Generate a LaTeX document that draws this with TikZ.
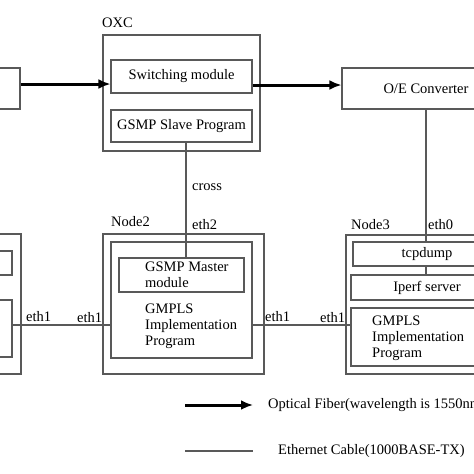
\documentclass[tikz,border=0pt]{standalone}
\usepackage{fontspec}
\setmainfont{Liberation Serif}
\usetikzlibrary{arrows.meta, positioning, calc}

\begin{document}
\begin{tikzpicture}[x=1pt, y=-1pt, font=\fontsize{14.5}{16}\selectfont]
    % Styles
    \tikzstyle{box} = [rectangle, draw=gray!70!black, line width=1.1pt, inner sep=0pt, text=black]
    \tikzstyle{tag} = [inner sep=0pt, anchor=west, text=black]
    \tikzstyle{fiber} = [draw, black, line width=3pt, -{Latex[length=12pt, width=10pt]}]
    \tikzstyle{eth} = [draw, gray!70!black, line width=1.1pt]

    \clip (0,0) rectangle (474,474);

    % Nodes
    \node [box, minimum width=80, minimum height=41] (src) at (-20,88.5) {};
    \node [box, minimum width=157, minimum height=116] (oxc) at (181.5,93) {};
    \node [tag] (oxctag) at (102,23) {OXC};
    \node [box, minimum width=141, minimum height=33] (switch) at (181.5,76.5) {Switching module};
    \node [box, minimum width=141, minimum height=32] (slave) at (181.5,126) {GSMP Slave Program};
    \node [box, minimum width=168, minimum height=41] (oe) at (426,88.5) {O/E Converter};

    \node [box, minimum width=161, minimum height=140] (node1) at (-59.5,304) {};
    \node [box, minimum width=142, minimum height=24] (node1top) at (-59,263) {};
    \node [box, minimum width=142, minimum height=57] (node1prog) at (-59,328.5) {};

    \node [box, minimum width=161, minimum height=140] (node2) at (183.5,304) {};
    \node [tag] (node2tag) at (111,222) {Node2};
    \node [box, minimum width=141, minimum height=116] (node2prog) at (181.5,300) {};
    \node [box, minimum width=125, minimum height=34] (master) at (181.5,275) {};
    \node [tag, align=left] (mastertxt) at (145,275) {GSMP Master\\module};
    \node [tag, align=left] (node2txt) at (145,326) {GMPLS\\Implementation\\Program};

    \node [box, minimum width=164, minimum height=139] (node3) at (428,304.5) {};
    \node [tag] (node3tag) at (351,225) {Node3};
    \node [box, minimum width=148, minimum height=24] (tcpdump) at (427,254) {tcpdump};
    \node [box, minimum width=152, minimum height=25] (iperf) at (427,287.5) {Iperf server};
    \node [box, minimum width=152, minimum height=58] (node3prog) at (427,337) {};
    \node [tag, align=left] (node3txt) at (372,338) {GMPLS\\Implementation\\Program};

    % Edges
    \draw [fiber] (src.east |- 0,84) -- (switch.west |- 0,84);
    \draw [fiber] (switch.east |- 0,85) -- (oe.west |- 0,85);
    \draw [eth] (slave.south -| 186,0) -- (master.north -| 186,0);
    \node [tag] (cross) at (192,187) {cross};
    \node [tag] (eth2) at (192,225) {eth2};
    \draw [eth] (oe.south -| 426,0) -- (tcpdump.north -| 426,0);
    \draw [eth] (tcpdump.south -| 426,0) -- (iperf.north -| 426,0);
    \node [tag] (eth0) at (428,225) {eth0};
    \draw [eth] (node1prog.east |- 0,325) -- (node2prog.west |- 0,325);
    \node [tag] (eth1a) at (26,317) {eth1};
    \node [tag] (eth1b) at (77,318) {eth1};
    \draw [eth] (node2prog.east |- 0,325) -- (node3prog.west |- 0,325);
    \node [tag] (eth1c) at (265,317) {eth1};
    \node [tag] (eth1d) at (320,318) {eth1};

    % Legend
    \coordinate (fibA) at (185,405);
    \coordinate (fibB) at (253,405);
    \draw [fiber] (fibA) -- (fibB);
    \node [tag] (fibtxt) at (268,405) {Optical Fiber(wavelength is 1550nm)};
    \coordinate (ethA) at (185,451);
    \coordinate (ethB) at (253,451);
    \draw [eth] (ethA) -- (ethB);
    \node [tag] (ethtxt) at (278,451) {Ethernet Cable(1000BASE-TX)};
\end{tikzpicture}
\end{document}
